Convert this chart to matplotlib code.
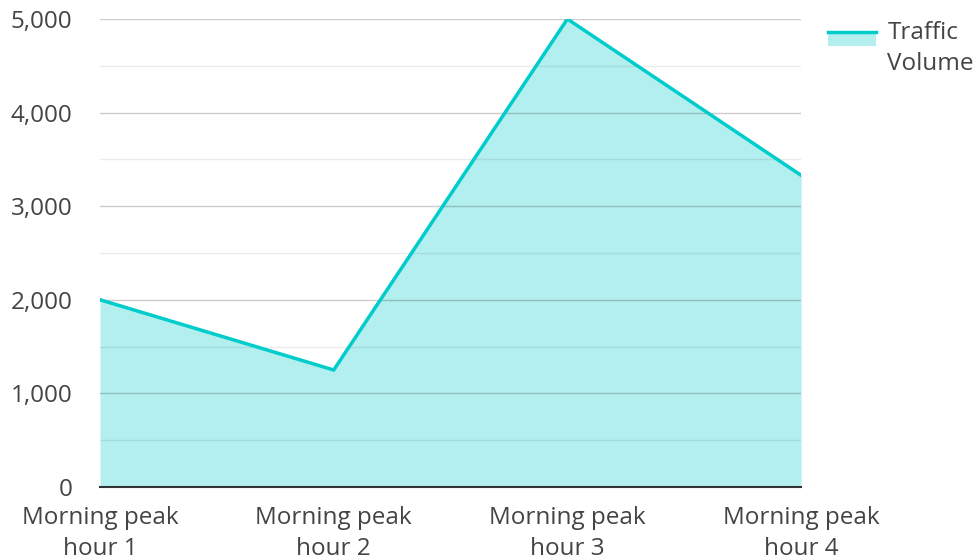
import matplotlib
matplotlib.use('Agg')
import matplotlib.pyplot as plt
from matplotlib.legend_handler import HandlerBase
from matplotlib.patches import Rectangle
from matplotlib.lines import Line2D
from matplotlib.ticker import FuncFormatter, MultipleLocator

plt.rcParams['font.family'] = ['Open Sans', 'DejaVu Sans']

hours = ['Morning peak\nhour 1', 'Morning peak\nhour 2', 'Morning peak\nhour 3', 'Morning peak\nhour 4']
traffic_volume = [2000, 1250, 5000, 3330]

line_color = '#00cccc'
fill_color = '#b2efee'
text_color = '#444444'
fs = 17.5


class AreaHandler(HandlerBase):
    # legend key: filled box with the line along its top edge
    def __init__(self, shift=0.0):
        super().__init__()
        self.shift = shift

    def create_artists(self, legend, orig_handle, xdescent, ydescent,
                       width, height, fontsize, trans):
        top = height + self.shift
        bottom = top - 0.6 * fontsize
        rect = Rectangle((-xdescent, bottom), width, top - bottom,
                         facecolor=fill_color, edgecolor='none', transform=trans)
        ln = Line2D([-xdescent, -xdescent + width], [top, top], color=line_color,
                    lw=2.5, transform=trans)
        return [rect, ln]


fig = plt.figure(figsize=(9.75, 5.6), dpi=100)
ax = fig.add_axes([0.1026, 0.1304, 0.719, 0.8357])

x = list(range(len(hours)))
area = ax.fill_between(x, traffic_volume, 0, color=fill_color, lw=0, zorder=1)
ax.plot(x, traffic_volume, color=line_color, lw=2.5, zorder=3, solid_joinstyle='miter')

ax.set_xlim(0, len(hours) - 1)
ax.set_ylim(0, 5000)
ax.yaxis.set_major_locator(MultipleLocator(1000))
ax.yaxis.set_minor_locator(MultipleLocator(500))
ax.yaxis.set_major_formatter(FuncFormatter(lambda v, p: f'{int(v):,}'))
ax.set_xticks(x)
ax.set_xticklabels(hours, linespacing=1.38)

ax.grid(axis='y', which='major', color='#000000', alpha=0.2, lw=1, zorder=2)
ax.grid(axis='y', which='minor', color='#000000', alpha=0.08, lw=1, zorder=2)
ax.set_axisbelow(False)

for s in ['top', 'right', 'left']:
    ax.spines[s].set_visible(False)
ax.spines['bottom'].set_color('#333333')
ax.spines['bottom'].set_linewidth(1.5)
ax.spines['bottom'].set_zorder(4)

ax.tick_params(axis='both', which='both', length=0, labelsize=fs, colors=text_color)
ax.tick_params(axis='y', pad=20)
ax.tick_params(axis='x', pad=13.5)

leg = ax.legend([area], ['Traffic\nVolume'], handler_map={type(area): AreaHandler(shift=6)},
                loc='upper left', bbox_to_anchor=(1.007, 1.043), frameon=False,
                fontsize=fs, labelcolor=text_color, handlelength=2.0, handletextpad=0.45)
for t in leg.get_texts():
    t.set_linespacing(1.38)

fig.savefig('out.png', dpi=100)
